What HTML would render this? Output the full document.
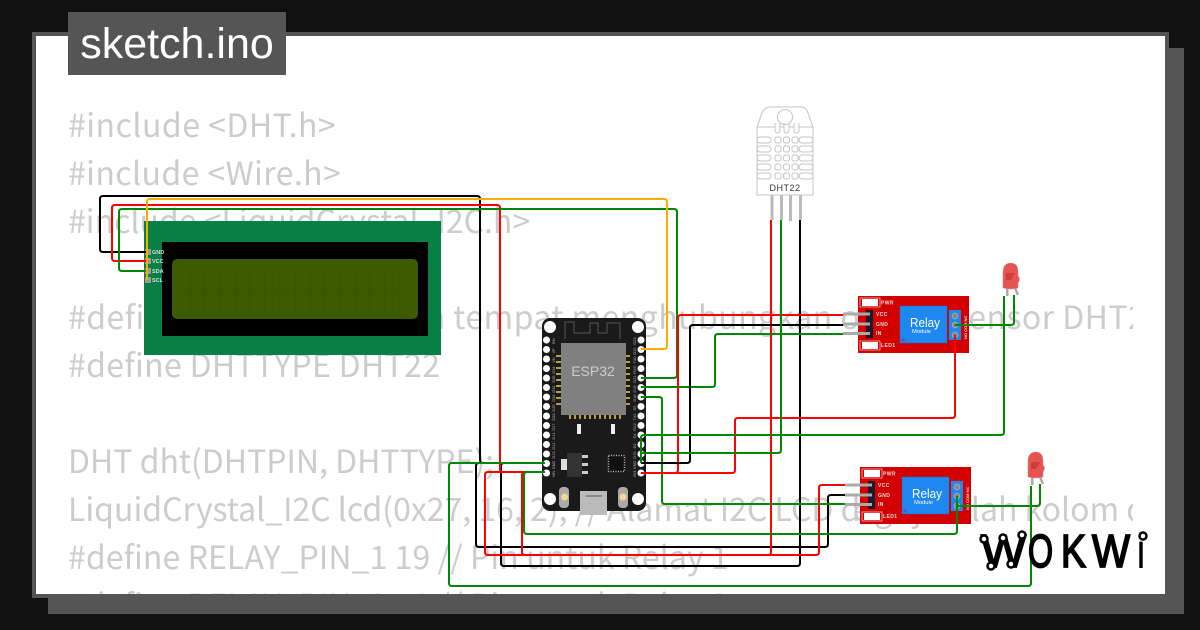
<!DOCTYPE html>
<html><head><meta charset="utf-8"><style>
html,body{margin:0;padding:0;background:#111;width:1200px;height:630px;overflow:hidden}
.sh{position:absolute;left:48px;top:48px;width:1136px;height:566px;background:#555}
.fr{position:absolute;left:32px;top:32px;width:1129px;height:558px;border:4px solid #555;background:#fff;overflow:hidden}
.code{position:absolute;left:32px;top:64px;width:1065px;height:494px;overflow:hidden;color:#ccc;font:32px/48px "Noto Sans CJK JP","Liberation Sans",sans-serif;white-space:pre}
.t{position:absolute;left:68px;top:12px;width:218px;height:63px;background:#555;color:#fff;font:43px/65px "Liberation Sans",sans-serif;text-align:center}
svg{position:absolute;left:0;top:0}
.w{fill:none;stroke-width:2}
</style></head><body>
<div class="sh"></div>
<div class="fr"><div class="code"><span style="letter-spacing:.5px">#include &lt;DHT.h&gt;</span>
<span style="letter-spacing:.41px">#include &lt;Wire.h&gt;</span>
#include &lt;LiquidCrystal_I2C.h&gt;

<span style="letter-spacing:.45px">#define DHTPIN 15 // Pin tempat menghubungkan output sensor DHT22</span>
<span style="letter-spacing:.33px">#define DHTTYPE DHT22</span>

DHT dht(DHTPIN, DHTTYPE);
LiquidCrystal_I2C lcd(0x27, 16, 2); // Alamat I2C LCD <span style="letter-spacing:-7.8px">dengan</span> jumlah kolom dan baris
<span style="letter-spacing:.08px">#define RELAY_PIN_1 19 // Pin untuk Relay 1</span>
<span style="letter-spacing:.08px">#define RELAY_PIN_2 18 // Pin untuk Relay 2</span></div></div>
<div class="t">sketch.ino</div>
<svg width="1200" height="630" viewBox="0 0 1200 630" font-family="'Liberation Sans',sans-serif">
<defs>
<g id="relay">
<rect width="111" height="57" fill="#d40000"/>
<rect x="42" y="10" width="47" height="37" fill="#1e88f0" stroke="#1670c8" stroke-width=".5"/>
<circle cx="45" cy="44" r="2" fill="#5a5ad0"/>
<rect x="91" y="14" width="12" height="30" fill="#1e88f0"/>
<circle cx="97" cy="20" r="3" fill="#888" stroke="#ccc" stroke-width=".5"/>
<circle cx="97" cy="29" r="3" fill="#888" stroke="#ccc" stroke-width=".5"/>
<circle cx="97" cy="39" r="3" fill="#888" stroke="#ccc" stroke-width=".5"/>
<text x="52" y="31" font-size="13" fill="#fff" textLength="30" lengthAdjust="spacingAndGlyphs">Relay</text>
<text x="54" y="37" font-size="5" fill="#fff" textLength="19" lengthAdjust="spacingAndGlyphs">Module</text>
<rect x="8" y="14" width="7" height="28" fill="#1a1a2a"/>
<rect x="-15" y="16.500" width="27" height="3" fill="#aaa"/>
<rect x="-15" y="26.500" width="27" height="3" fill="#aaa"/>
<rect x="-15" y="36" width="27" height="3" fill="#aaa"/>
<rect x="4" y="3" width="16" height="7" fill="#fff"/>
<rect x="2" y="2" width="20" height="9" fill="none" stroke="#eebbbb" stroke-width=".8"/>
<rect x="4" y="46" width="16" height="7" fill="#fff"/>
<rect x="2" y="45" width="20" height="9" fill="none" stroke="#eebbbb" stroke-width=".8"/>
<g font-size="5" fill="#f2dcdc" font-weight="bold" letter-spacing=".4">
<text x="23" y="8.500">PWR</text><text x="18" y="20">VCC</text><text x="18" y="30">GND</text><text x="18" y="39">IN</text><text x="23" y="51">LED1</text>
</g>
<text transform="translate(109,43) rotate(-90)" font-size="4" fill="#f2dcdc" font-weight="bold">NO COM NC</text>
</g>
<g id="led">
<rect x="3" y="24" width="2.500" height="9" fill="#aaa"/>
<path d="M12 25L15 32" stroke="#aaa" stroke-width="2.500"/>
<path d="M0 25V9Q0 0 8 0Q15 0 15 9V13Q18 16 15 20V25Q8 27 0 25Z" fill="#e65353" stroke="#ee8888" stroke-width=".5"/>
<path d="M3 10H12L8 17H3Z" fill="#cf3c3c"/>
</g>
<g id="rowg"><rect x="0" width="14" height="6" rx="3" fill="#fff" stroke="#c4c4c4" stroke-width="1"/><rect x="18" width="6" height="6" rx="2" fill="#fff" stroke="#c4c4c4"/><rect x="26.500" width="6" height="6" rx="2" fill="#fff" stroke="#c4c4c4"/><rect x="35" width="6" height="6" rx="2" fill="#fff" stroke="#c4c4c4"/><rect x="42" width="14" height="6" rx="3" fill="#fff" stroke="#c4c4c4"/></g>
</defs>

<!-- LCD -->
<rect x="144" y="221" width="297" height="134" fill="#087f45"/>
<rect x="162" y="242" width="266" height="94" fill="#000"/>
<rect x="172" y="259" width="246" height="60" rx="5" fill="#3e5a00"/>
<g stroke="#395300" stroke-width=".8">
<path d="M190 268V312M205 268V312M220 268V312M235 268V312M250 268V312M265 268V312M280 268V312M295 268V312M310 268V312M325 268V312M340 268V312M355 268V312M370 268V312M385 268V312M400 268V312M190 290H400"/>
</g>
<g fill="#999"><rect x="145" y="249" width="6" height="6"/><rect x="145" y="258" width="6" height="6"/><rect x="145" y="268" width="6" height="6"/><rect x="145" y="277" width="6" height="6"/></g>
<g font-size="5.500" fill="#ddd" font-weight="bold"><text x="152" y="254">GND</text><text x="152" y="263">VCC</text><text x="152" y="273">SDA</text><text x="152" y="282">SCL</text></g>

<!-- DHT22 -->
<g stroke="#c4c4c4" fill="#fff">
<rect x="770.500" y="195" width="3" height="25" fill="#bbb" stroke="none"/><rect x="780" y="195" width="3" height="25" fill="#bbb" stroke="none"/><rect x="789" y="195" width="3" height="26" fill="#bbb" stroke="none"/><rect x="799" y="195" width="3" height="25" fill="#bbb" stroke="none"/>
<path d="M757 127L762 113Q765 107 770 107H801Q806 107 808 113L813 127V195H757Z" fill="#fff"/>
<circle cx="785" cy="117" r="7.500"/>
<path d="M775 123V130Q775 133 778 133Q780 133 780 130V123M784 123V130Q784 133 786 133Q789 133 789 130V123M794 123V130Q794 133 796 133Q799 133 799 130V123M757 127H775M780 127H784M789 127H794M799 127H813" fill="none"/>
<use href="#rowg" x="757" y="137"/><use href="#rowg" x="757" y="146"/><use href="#rowg" x="757" y="155"/><use href="#rowg" x="757" y="164"/><use href="#rowg" x="757" y="173"/>
<text x="785" y="191" font-size="9" fill="#333" stroke="none" text-anchor="middle" letter-spacing=".5">DHT22</text>
</g>

<!-- ESP32 -->
<rect x="542" y="318" width="104" height="193" rx="8" fill="#1a1a1a"/>
<path d="M565 339V322H574V333H590V323H598V333H607V323H620V339" fill="none" stroke="#555" stroke-width="1"/>
<rect x="561" y="343" width="65" height="72" fill="#808080"/>
<g fill="#b8a040">
<path d="M556 355h5v2h-5zM556 361h5v2h-5zM556 367h5v2h-5zM556 373h5v2h-5zM556 379h5v2h-5zM556 385h5v2h-5zM556 391h5v2h-5zM556 397h5v2h-5zM556 403h5v2h-5zM626 355h4v2h-4zM626 361h4v2h-4zM626 367h4v2h-4zM626 373h4v2h-4zM626 379h4v2h-4zM626 385h4v2h-4zM626 391h4v2h-4zM626 397h4v2h-4zM626 403h4v2h-4z"/>
<path d="M569 415h2v4h-2zM574 415h2v4h-2zM579 415h2v4h-2zM584 415h2v4h-2zM589 415h2v4h-2zM594 415h2v4h-2zM599 415h2v4h-2zM604 415h2v4h-2zM609 415h2v4h-2zM614 415h2v4h-2zM619 415h2v4h-2z"/>
</g>
<text x="593" y="376" font-size="14" fill="#ccc" text-anchor="middle">ESP32</text>
<rect x="577" y="424" width="4" height="10" fill="#eee"/><rect x="611" y="424" width="4" height="10" fill="#eee"/>
<g fill="#fff">
<circle cx="550" cy="327" r="6"/><circle cx="638" cy="327" r="6"/><circle cx="550" cy="499" r="6"/><circle cx="638" cy="499" r="6"/>
<g id="h">
<circle cx="546.500" cy="340" r="3.500"/><circle cx="546.500" cy="349.500" r="3.500"/><circle cx="546.500" cy="359" r="3.500"/><circle cx="546.500" cy="368.500" r="3.500"/><circle cx="546.500" cy="378" r="3.500"/><circle cx="546.500" cy="387.500" r="3.500"/><circle cx="546.500" cy="397" r="3.500"/><circle cx="546.500" cy="406.500" r="3.500"/><circle cx="546.500" cy="416" r="3.500"/><circle cx="546.500" cy="425.500" r="3.500"/><circle cx="546.500" cy="435" r="3.500"/><circle cx="546.500" cy="444.500" r="3.500"/><circle cx="546.500" cy="454" r="3.500"/><circle cx="546.500" cy="463.500" r="3.500"/><circle cx="546.500" cy="473" r="3.500"/>
</g>
<use href="#h" x="94.500"/>
</g>
<g font-size="3.800" fill="#bbb" text-anchor="middle">
<text transform="translate(555,341) rotate(-90)">EN</text><text transform="translate(555,351) rotate(-90)">VP</text><text transform="translate(555,360) rotate(-90)">VN</text><text transform="translate(555,370) rotate(-90)">D34</text><text transform="translate(555,379) rotate(-90)">D35</text><text transform="translate(555,389) rotate(-90)">D32</text><text transform="translate(555,398) rotate(-90)">D33</text><text transform="translate(555,408) rotate(-90)">D25</text><text transform="translate(555,417) rotate(-90)">D26</text><text transform="translate(555,427) rotate(-90)">D27</text><text transform="translate(555,436) rotate(-90)">D14</text><text transform="translate(555,446) rotate(-90)">D12</text><text transform="translate(555,455) rotate(-90)">D13</text><text transform="translate(555,465) rotate(-90)">GND</text><text transform="translate(555,474) rotate(-90)">VIN</text>
<text transform="translate(636,341) rotate(-90)">D23</text><text transform="translate(636,351) rotate(-90)">D22</text><text transform="translate(636,360) rotate(-90)">TX0</text><text transform="translate(636,370) rotate(-90)">RX0</text><text transform="translate(636,379) rotate(-90)">D21</text><text transform="translate(636,389) rotate(-90)">D19</text><text transform="translate(636,398) rotate(-90)">D18</text><text transform="translate(636,408) rotate(-90)">D5</text><text transform="translate(636,417) rotate(-90)">TX2</text><text transform="translate(636,427) rotate(-90)">RX2</text><text transform="translate(636,436) rotate(-90)">D4</text><text transform="translate(636,446) rotate(-90)">D2</text><text transform="translate(636,455) rotate(-90)">D15</text><text transform="translate(636,465) rotate(-90)">GND</text><text transform="translate(636,474) rotate(-90)">3V3</text>
</g>
<!-- regulator -->
<rect x="567" y="453" width="15" height="24" fill="#333"/><rect x="561" y="459" width="6" height="11" fill="#ddd"/>
<rect x="582" y="455" width="6" height="3" fill="#ccc"/><rect x="582" y="463" width="6" height="3" fill="#ccc"/><rect x="582" y="471" width="6" height="3" fill="#ccc"/>
<!-- QFN -->
<rect x="608.500" y="455.500" width="16" height="16" fill="#111" stroke="#bbb" stroke-width="1.500" stroke-dasharray="1 1.500"/>
<!-- buttons, usb -->
<rect x="559" y="487" width="10" height="21" rx="4" fill="#aaa"/><circle cx="564.500" cy="497" r="3.500" fill="#f5d890"/>
<rect x="618" y="487" width="10" height="21" rx="4" fill="#aaa"/><circle cx="623" cy="497" r="3.500" fill="#f5d890"/>
<rect x="580" y="491" width="27" height="24" fill="#bbb"/><path d="M586 495H602V497H586Z" fill="#888"/>

<use href="#relay" x="858" y="296"/>
<use href="#relay" x="860" y="467"/>
<use href="#led" x="1003" y="263"/>
<use href="#led" x="1028" y="452"/>

<!-- wires -->
<g class="w">
<path stroke="#000" d="M148 252H103Q100 252 100 249V199Q100 196 103 196H477Q480 196 480 199V460Q480 463 483 463H545"/>
<path stroke="#000" d="M545 463H479Q476 463 476 466V544Q476 547 479 547H825Q828 547 828 544V498Q828 495 831 495H845"/>
<path stroke="#000" d="M545 463H504Q501 463 501 466V563Q501 566 504 566H797Q800 566 800 563V220"/>
<path stroke="#f00" d="M148 261H115Q112 261 112 258V208Q112 205 115 205H497Q500 205 500 208V469Q500 472 503 472H545"/>
<path stroke="#f00" d="M545 472H488Q485 472 485 475V552Q485 555 488 555H816Q819 555 819 552V488Q819 485 822 485H845"/>
<path stroke="#f00" d="M545 472H525Q522 472 522 475V552Q522 555 525 555H768Q771 555 771 552V220"/>
<path stroke="#080" d="M545 472H527Q524 472 524 475V531Q524 534 527 534H954Q957 534 957 531V496"/>
<path stroke="#080" d="M545 463H452Q449 463 449 466V583Q449 586 452 586H1028Q1031 586 1031 583V486"/>
<path stroke="#080" d="M148 271H122Q119 271 119 268V212Q119 209 122 209H674Q677 209 677 212V375Q677 378 674 378H641"/>
<path stroke="#fa0" d="M147 280V202Q147 199 150 199H664Q667 199 667 202V346Q667 349 664 349H641"/>
<path stroke="#080" d="M641 387H712Q715 387 715 384V337Q715 334 718 334H843"/>
<path stroke="#080" d="M641 397H659Q662 397 662 400V501Q662 504 665 504H845"/>
<path stroke="#f00" d="M641 473H675Q678 473 678 470V318Q678 315 681 315H843"/>
<path stroke="#000" d="M641 463H687Q690 463 690 460V328Q690 325 693 325H843"/>
<path stroke="#f00" d="M641 473H732Q735 473 735 470V421Q735 418 738 418H952Q955 418 955 415V335"/>
<path stroke="#080" d="M641 463V438Q641 435 644 435H1001Q1004 435 1004 432V296"/>
<path stroke="#080" d="M641 453H778Q781 453 781 450V220"/>
<path stroke="#080" d="M956 506H1037Q1040 506 1040 503V484"/>
<path stroke="#080" d="M955 325H1011Q1014 325 1014 322V295"/>
</g>

<!-- logo -->
<g fill="#000" stroke="#000" stroke-width="1.800" font-family="'Liberation Sans',sans-serif" font-size="46">
<text x="981" y="567" textLength="45" lengthAdjust="spacingAndGlyphs">W</text>
<text x="1028" y="567" textLength="25" lengthAdjust="spacingAndGlyphs">O</text>
<text x="1061" y="567" textLength="25" lengthAdjust="spacingAndGlyphs">K</text>
<text x="1092" y="567" textLength="38" lengthAdjust="spacingAndGlyphs">W</text>
<text x="1138" y="567" textLength="6" lengthAdjust="spacingAndGlyphs">i</text>
</g>
<g fill="#fff" stroke="#000" stroke-width="2.500"><circle cx="984" cy="539" r="3.500"/><circle cx="1003" cy="538" r="3.500"/><circle cx="1022" cy="535" r="3.500"/><circle cx="991" cy="566" r="3.500"/><circle cx="1011" cy="564" r="3.500"/><circle cx="1143" cy="536" r="3.500"/></g>
</svg>
</body></html>
